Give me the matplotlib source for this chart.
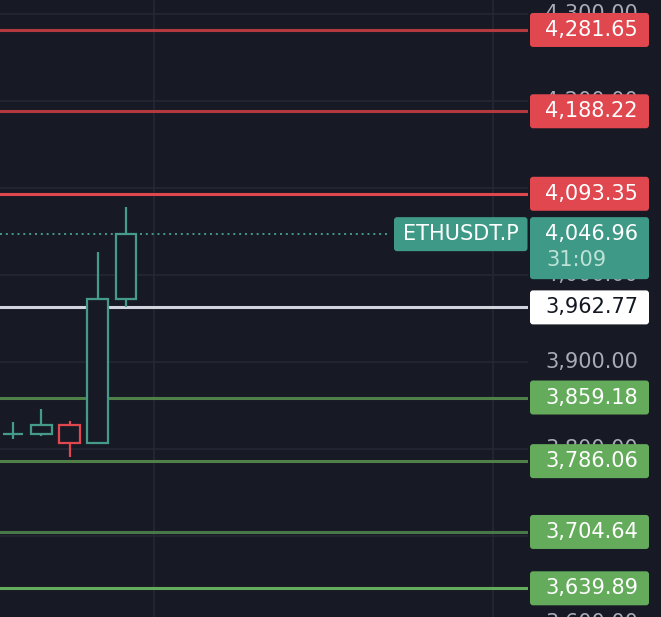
import matplotlib
matplotlib.use("Agg")
import matplotlib.pyplot as plt
from matplotlib.patches import FancyBboxPatch

#--------------------
# Data
opens = [3817.4, 3816.9, 3827.9, 3806.5, 3972.0]
highs = [3831.0, 3846.0, 3832.2, 4026.4, 4078.2]
lows = [3811.8, 3815.3, 3791.2, 3806.5, 3963.6]
closes = [3817.6, 3827.9, 3806.5, 3972.8, 4046.96]

resistance_levels = [4281.65, 4188.22, 4093.35]
support_levels = [3859.18, 3786.06, 3704.64, 3639.89]
pivot_level = 3962.77
last_price = 4046.96
symbol = "ETHUSDT.P"
countdown = "31:09"
tick_prices = [3600, 3700, 3800, 3900, 4000, 4100, 4200, 4300]

#--------------------
# Styling
BG = "#171a25"
GRID = "#252834"
UP = "#459a8a"
DOWN = "#e0474e"
RED_LABEL = "#e0474e"
GREEN_LABEL = "#64ac5c"
TEAL_LABEL = "#3e9a86"
resistance_line_colors = ["#b4393f", "#b4393f", "#e0464d"]
support_line_colors = ["#4f8048", "#4f8048", "#4a7749", "#63ac5b"]

W, H = 661, 617
PLOT_W = 528
Y_MIN, Y_MAX = 3606.9, 4316.1
PX_PER_CANDLE = 28.25
FONT = 15

fig = plt.figure(figsize=(W / 100, H / 100), dpi=100, facecolor=BG)
ax = fig.add_axes([0, 0, PLOT_W / W, 1], facecolor=BG)
ax2 = fig.add_axes([PLOT_W / W, 0, (W - PLOT_W) / W, 1], facecolor=BG)

x0 = -13 / PX_PER_CANDLE
ax.set_xlim(x0, x0 + PLOT_W / PX_PER_CANDLE)
ax.set_ylim(Y_MIN, Y_MAX)
ax2.set_xlim(0, W - PLOT_W)
ax2.set_ylim(Y_MIN, Y_MAX)
for a in (ax, ax2):
    a.set_axis_off()

price_per_px = (Y_MAX - Y_MIN) / H

# grid
for p in tick_prices:
    ax.axhline(p, color=GRID, lw=1.2, zorder=1)
for gx in [5, 17]:
    ax.axvline(gx, color=GRID, lw=1.2, zorder=1)

# level lines
for lvl, col in zip(resistance_levels, resistance_line_colors):
    ax.axhline(lvl, color=col, lw=2.2, zorder=2)
for lvl, col in zip(support_levels, support_line_colors):
    ax.axhline(lvl, color=col, lw=2.2, zorder=2)
ax.axhline(pivot_level, color="#d1d4dc", lw=2.2, zorder=2)

# last price dotted line
ax.axhline(last_price, xmax=390 / PLOT_W, color=UP, lw=1.4,
           linestyle=(0, (1, 2)), zorder=2)

# candles (hollow)
for i, (o, h, l, c) in enumerate(zip(opens, highs, lows, closes)):
    col = UP if c >= o else DOWN
    lo, hi = min(o, c), max(o, c)
    ax.vlines(i, l, lo, color=col, lw=1.6, zorder=3)
    ax.vlines(i, hi, h, color=col, lw=1.6, zorder=3)
    ax.bar(i, hi - lo, bottom=lo, width=0.74, color=BG, edgecolor=col,
           linewidth=1.6, zorder=4)

# price scale tick labels
for p in tick_prices:
    ax2.text(110, p, f"{p:,.2f}", color="#a9acb6", fontsize=FONT,
             ha="right", va="center", zorder=2)


def label_box(x_left, x_right, y_top, y_bot, color, zorder=5):
    box = FancyBboxPatch((x_left, y_bot), x_right - x_left, y_top - y_bot,
                         boxstyle="round,pad=0,rounding_size=3",
                         mutation_aspect=price_per_px, fc=color, ec="none",
                         clip_on=False, zorder=zorder)
    ax2.add_patch(box)


half = 17 * price_per_px
for lvl in resistance_levels:
    label_box(2, 121, lvl + half, lvl - half, RED_LABEL)
    ax2.text(110, lvl, f"{lvl:,.2f}", color="white", fontsize=FONT,
             ha="right", va="center", zorder=6)
for lvl in support_levels:
    label_box(2, 121, lvl + half, lvl - half, GREEN_LABEL)
    ax2.text(110, lvl, f"{lvl:,.2f}", color="white", fontsize=FONT,
             ha="right", va="center", zorder=6)

label_box(2, 121, pivot_level + half, pivot_level - half, "white")
ax2.text(110, pivot_level, f"{pivot_level:,.2f}", color="#131722",
         fontsize=FONT, ha="right", va="center", zorder=6)

# last price + countdown
label_box(2, 121, last_price + half, last_price - 45 * price_per_px, TEAL_LABEL)
ax2.text(110, last_price, f"{last_price:,.2f}", color="white", fontsize=FONT,
         ha="right", va="center", zorder=6)
ax2.text(18, last_price - 26 * price_per_px, countdown, color="#bfe2d8",
         fontsize=FONT, ha="left", va="center", zorder=6)

# symbol tag
label_box(-134, -0.5, last_price + half, last_price - half, TEAL_LABEL)
ax2.text(-67, last_price, symbol, color="white", fontsize=FONT,
         ha="center", va="center", zorder=6, clip_on=False)

fig.savefig("out.png", dpi=100, facecolor=BG)
